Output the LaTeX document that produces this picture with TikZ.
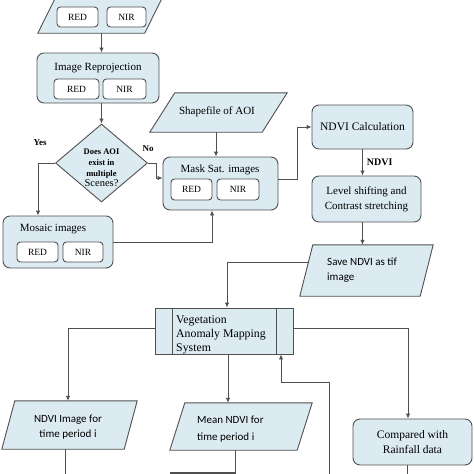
\documentclass[tikz,border=0pt]{standalone}
\usepackage{fontspec}
\setmainfont{Liberation Serif}
\newfontfamily\calfont{Carlito}
\usetikzlibrary{arrows.meta,shapes.geometric,backgrounds}
\definecolor{boxfill}{RGB}{220,234,242}
\definecolor{edge}{RGB}{80,80,80}
\tikzset{
 shapeline/.style={draw=edge, line width=0.9pt},
 bigbox/.style={shapeline, fill=boxfill, rounded corners=7pt, inner sep=0pt},
 chip/.style={shapeline, fill=white, rounded corners=3.5pt, inner sep=0pt, font=\fontsize{9.5}{11}\selectfont},
 parabox/.style={inner sep=0pt},
 txt/.style={inner sep=0pt, align=center},
 conn/.style={draw=edge, line width=0.9pt},
 arr/.style={conn, -{Latex[length=5pt,width=4.5pt]}},
}
\newcommand\paral[2]{%
 \begin{scope}[on background layer]
 \draw[shapeline, fill=boxfill] (#1.south west) -- ([xshift=-#2]#1.south east) -- (#1.north east) -- ([xshift=#2]#1.north west) -- cycle;
 \end{scope}}
\begin{document}
\begin{tikzpicture}[x=1pt,y=-1pt]
\useasboundingbox (0,0) rectangle (474,474);
% top input
\node[parabox, minimum width=133pt, minimum height=53pt] (inp) at (104.5,6.5) {};
\paral{inp}{26.5pt}
\node[chip, minimum width=41pt, minimum height=20pt] (red1) at (77.5,17) {RED};
\node[chip, minimum width=39pt, minimum height=20pt] (nir1) at (126.5,17) {NIR};
% reprojection
\node[bigbox, minimum width=122pt, minimum height=50pt] (reproj) at (98,78) {};
\node[txt, font=\fontsize{11}{13}\selectfont] (reprojt) at (98,68) {Image Reprojection};
\node[chip, minimum width=45pt, minimum height=20pt] (red2) at (76.5,89) {RED};
\node[chip, minimum width=43pt, minimum height=20pt] (nir2) at (124.5,89) {NIR};
% diamond
\node[diamond, shapeline, fill=boxfill, minimum width=92pt, minimum height=78pt, inner sep=0pt] (dia) at (101.5,163) {};
\node[txt, font=\bfseries\fontsize{8.5}{10.8}\selectfont] (diat) at (101.5,168) {Does AOI\\exist in\\multiple\\{\mdseries\fontsize{10.5}{12}\selectfont Scenes?}};
\node[txt, font=\bfseries\fontsize{9}{11}\selectfont] (yes) at (40,143) {Yes};
\node[txt, font=\bfseries\fontsize{9}{11}\selectfont] (no) at (148,149) {No};
% mosaic
\node[bigbox, minimum width=110pt, minimum height=52pt] (mosaic) at (58,242) {};
\node[txt, font=\fontsize{11}{13}\selectfont] (mosaict) at (53,229) {Mosaic images};
\node[chip, minimum width=41pt, minimum height=20pt] (red3) at (37.5,252) {RED};
\node[chip, minimum width=40pt, minimum height=20pt] (nir3) at (83,252) {NIR};
% shapefile
\node[parabox, minimum width=137pt, minimum height=39pt] (shp) at (218.5,112.5) {};
\paral{shp}{25pt}
\node[txt, font=\fontsize{11}{13}\selectfont] (shpt) at (217,112) {Shapefile of AOI};
% mask
\node[bigbox, minimum width=115pt, minimum height=53pt] (mask) at (220.5,183.5) {};
\node[txt, font=\fontsize{11}{13}\selectfont] (maskt) at (220,170) {Mask Sat. images};
\node[chip, minimum width=41pt, minimum height=21pt] (red4) at (191.5,189.5) {RED};
\node[chip, minimum width=42pt, minimum height=21pt] (nir4) at (238,189.5) {NIR};
% ndvi calc
\node[bigbox, minimum width=101pt, minimum height=44pt, font=\fontsize{11.5}{13}\selectfont] (ndvi) at (362.5,127) {NDVI Calculation};
% level
\node[bigbox, minimum width=109pt, minimum height=46pt, align=center, font=\fontsize{11}{15}\selectfont] (level) at (366.5,199) {Level shifting and\\Contrast stretching};
% save
\node[parabox, minimum width=133pt, minimum height=51pt] (save) at (366.5,270.5) {};
\paral{save}{13pt}
\node[txt, align=left, anchor=west, font=\calfont\fontsize{11}{15}\selectfont] (savet) at (327,270.5) {Save NDVI as tif\\image};
% VAMS
\node[shapeline, fill=boxfill, minimum width=138pt, minimum height=46pt, inner sep=0pt] (vams) at (224,331) {};
\draw[shapeline] ([xshift=18pt]vams.north west) -- ([xshift=18pt]vams.south west);
\draw[shapeline] ([xshift=-17pt]vams.north east) -- ([xshift=-17pt]vams.south east);
\node[txt, align=left, anchor=west, font=\fontsize{11.8}{14}\selectfont] (vamst) at (176,334.5) {Vegetation\\Anomaly Mapping\\System};
% NDVI image
\node[parabox, minimum width=135pt, minimum height=48pt] (nimg) at (69.5,425) {};
\paral{nimg}{13pt}
\node[txt, font=\calfont\fontsize{11}{15}\selectfont] (nimgt) at (68,427) {NDVI Image for\\time period i};
% mean
\node[parabox, minimum width=142pt, minimum height=47pt] (mean) at (241,426.5) {};
\paral{mean}{15pt}
\node[txt, align=left, anchor=west, font=\calfont\fontsize{11}{17}\selectfont] (meant) at (197,429) {Mean NDVI for\\time period i};
% compared
\node[bigbox, minimum width=119pt, minimum height=46pt, align=center, font=\fontsize{11.5}{15}\selectfont] (cmp) at (412.5,442) {Compared with\\Rainfall data};
% connectors
\draw[arr] ([xshift=-3pt]inp.south) -- ([xshift=-3pt]inp.south |- reproj.north);
\draw[arr] ([xshift=3.5pt]reproj.south) -- ([xshift=3.5pt]reproj.south |- dia.north);
\draw[arr] (dia.west) -| ([xshift=-20pt]mosaic.north);
\draw[arr] (dia.east) -- ++(8,0) |- ([yshift=5.5pt]mask.west);
\draw[arr] (mosaic.east) -| ([xshift=-8.5pt]mask.south);
\draw[arr] ([xshift=-2.5pt]shp.south) -- ([xshift=-2.5pt]shp.south |- mask.north);
\draw[arr] ([yshift=4.5pt]mask.east) -- ++(19,0) |- (ndvi.west);
\draw[arr] (ndvi.south) -- (ndvi.south |- level.north) node[midway, right, xshift=4pt, inner sep=0pt, font=\bfseries\fontsize{10}{12}\selectfont] (ndvilab) {NDVI};
\draw[arr] (ndvi.south |- level.south) -- (ndvi.south |- save.north);
\coordinate (saveL) at (309,262);
\draw[arr] (saveL) -| ([xshift=3pt]vams.north);
\draw[arr] ([yshift=3pt]vams.west) -| ([xshift=-1.5pt]nimg.north);
\draw[arr] ([xshift=4pt]vams.south) -- ([xshift=4pt]vams.south |- mean.north);
\draw[arr] ([yshift=3pt]vams.east) -| ([xshift=-4.5pt]cmp.north);
\coordinate (fbin) at (329,480);
\coordinate (fbturn) at (329,382);
\draw[arr] (fbin) -- (fbturn) -| ([xshift=57pt]vams.south);
\coordinate (nimgout) at (65,480);
\draw[conn] ([xshift=-4.5pt]nimg.south) -- (nimgout);
\coordinate (meanout) at (170,473);
\draw[conn] ([xshift=-6pt]mean.south) |- (meanout);
\draw[draw=edge, line width=2pt] (meanout) -- ++(65,0);
\coordinate (cmpout) at (407,480);
\draw[conn] ([xshift=-5.5pt]cmp.south) -- (cmpout);
\end{tikzpicture}
\end{document}
